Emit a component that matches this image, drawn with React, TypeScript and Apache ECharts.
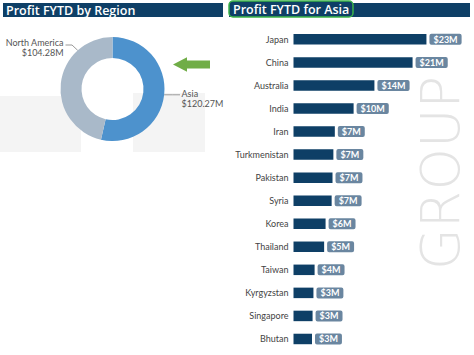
import React, { useEffect, useRef } from "react";
import * as echarts from "echarts";

// ---- data ----
const regionNames = ["Asia", "North America"];
const regionProfit = [120.27, 104.28]; // $M
const countries = [
  "Japan", "China", "Australia", "India", "Iran", "Turkmenistan", "Pakistan",
  "Syria", "Korea", "Thailand", "Taiwan", "Kyrgyzstan", "Singapore", "Bhutan",
];
const countryProfit = [23.0, 20.6, 14.0, 10.4, 7.15, 6.9, 6.75, 6.6, 5.55, 5.3, 3.65, 3.45, 3.3, 3.2]; // $M
const leftTitle = "Profit FYTD by Region";
const rightTitle = "Profit FYTD for Asia";
const watermarkLetters = ["G", "R", "O", "U", "P"];

// ---- layout / styles ----
const NAVY = "#0e3f66";
const PIE_CX = 112.5;
const PIE_CY = 89;
const PIE_R_IN = 31;
const PIE_R_OUT = 52;
const WM = "#f4f4f4";
const WM_FONT = 54;
const WM_ADV = [0.775, 0.695, 0.787, 0.732, 0.603]; // glyph advance (em) of the letters above
const WM_BOTTOM = 270;
const WM_X = 440;

function onCircle(degFromTopClockwise: number): [number, number] {
  const a = (degFromTopClockwise * Math.PI) / 180;
  return [PIE_CX + PIE_R_OUT * Math.sin(a), PIE_CY - PIE_R_OUT * Math.cos(a)];
}

export default function App() {
  const ref = useRef<HTMLDivElement>(null);
  useEffect(() => {
    document.body.style.margin = "0";
    const chart = echarts.init(ref.current!, undefined, { renderer: "svg" });
    const total = regionProfit.reduce((a, b) => a + b, 0);
    const asiaMid = ((regionProfit[0] / total) * 360) / 2;
    const titleText = { fontFamily: "Open Sans", fontSize: 12.5, fontWeight: 600, color: "#ffffff", lineHeight: 14 };

    let cursor = WM_BOTTOM;
    const wmLetters = watermarkLetters.map((ch, i) => {
      const w = WM_ADV[i] * WM_FONT;
      const cy = cursor - w / 2;
      cursor -= w;
      return {
        type: "text",
        z: -10,
        silent: true,
        x: WM_X,
        y: cy,
        rotation: Math.PI / 2,
        style: {
          text: ch,
          fontFamily: "DejaVu Sans",
          fontWeight: 200,
          fontSize: WM_FONT,
          fill: "#e4e4e4",
          align: "center",
          verticalAlign: "middle",
        },
      };
    });

    const option: any = {
      animation: false,
      backgroundColor: "#ffffff",
      title: [
        { text: leftTitle, left: 3, top: 3, padding: [0, 3], textStyle: titleText },
        {
          text: rightTitle,
          left: 229,
          top: 1,
          padding: [1, 4],
          backgroundColor: NAVY,
          borderColor: "#3cb54a",
          borderWidth: 1.5,
          borderRadius: 4,
          textStyle: titleText,
        },
      ],
      graphic: [
        // faint watermark
        { type: "rect", z: -10, silent: true, shape: { x: 0, y: 96, width: 81, height: 56 }, style: { fill: WM } },
        { type: "rect", z: -10, silent: true, shape: { x: 133, y: 93, width: 72, height: 59 }, style: { fill: WM } },
        ...wmLetters,
        // header bars
        { type: "rect", z: 1, shape: { x: 3, y: 3, width: 220, height: 14 }, style: { fill: NAVY } },
        { type: "rect", z: 1, shape: { x: 229, y: 3, width: 241, height: 14 }, style: { fill: NAVY } },
        // green arrow
        {
          type: "polygon",
          z: 1,
          shape: {
            points: [
              [173, 64.5], [187, 57.3], [187, 60.5], [210, 60.5], [210, 68.5], [187, 68.5], [187, 71.7],
            ],
          },
          style: { fill: "#70ad47" },
        },
      ],
      grid: { left: 293.5, right: 7.1, top: 27.8, bottom: 4.5, containLabel: false },
      xAxis: { type: "value", min: 0, max: 30, show: false },
      yAxis: {
        type: "category",
        data: countries,
        inverse: true,
        axisLine: { show: false },
        axisTick: { show: false },
        axisLabel: { fontFamily: "Lato", fontSize: 9, color: "#444", margin: 5 },
      },
      series: [
        {
          type: "pie",
          center: [PIE_CX, PIE_CY],
          radius: [PIE_R_IN, PIE_R_OUT],
          startAngle: 90,
          clockwise: true,
          data: regionNames.map((n, i) => ({ name: n, value: regionProfit[i] })),
          color: ["#4d92cd", "#a9b9c9"],
          label: {
            show: true,
            fontFamily: "Lato",
            fontSize: 9,
            lineHeight: 10,
            color: "#555",
            overflow: "none",
            formatter: (p: any) => `${p.name}\n$${p.value.toFixed(2)}M`,
          },
          labelLine: { show: true, lineStyle: { color: "#999", width: 1 } },
          labelLayout: (p: any) => {
            if (p.dataIndex === 0) {
              const s = onCircle(asiaMid);
              return {
                x: 181.5, y: 98.5, align: "left", verticalAlign: "middle",
                labelLinePoints: [s, [s[0] + 8, s[1]], [180, s[1]]],
              };
            }
            const s = onCircle(318);
            return {
              x: 63.5, y: 47, align: "right", verticalAlign: "middle",
              labelLinePoints: [s, [72, 45], [65.5, 45]],
            };
          },
        },
        {
          type: "bar",
          data: countryProfit,
          barWidth: 10.5,
          itemStyle: { color: NAVY },
          label: {
            show: true,
            position: "right",
            distance: 3,
            backgroundColor: "#6a86a0",
            borderRadius: 2,
            padding: [1, 4],
            color: "#ffffff",
            fontFamily: "Lato",
            fontWeight: "bold",
            fontSize: 9,
            lineHeight: 9,
            formatter: (p: any) => `$${Math.round(p.value)}M`,
          },
        },
      ],
    };
    chart.setOption(option);
    return () => chart.dispose();
  }, []);
  return <div ref={ref} style={{ position: "fixed", left: 0, top: 0, width: 474, height: 355 }} />;
}
